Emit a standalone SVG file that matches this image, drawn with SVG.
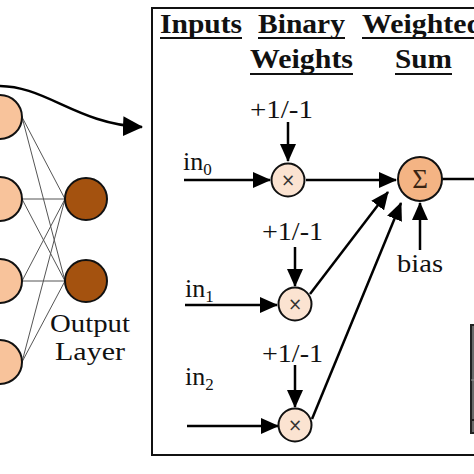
<svg xmlns="http://www.w3.org/2000/svg" width="474" height="474" viewBox="0 0 474 474">
<style>
.hd{font-family:"Liberation Serif","Times New Roman",serif;font-weight:bold;font-size:27px;fill:#111}
.tx{font-family:"Liberation Serif","Times New Roman",serif;font-size:26px;fill:#111}
.sub{font-family:"Liberation Serif","Times New Roman",serif;font-size:17px;fill:#111}
.ul{stroke:#111;stroke-width:2}
.inn{fill:#f8c39b;stroke:#111;stroke-width:2}
.out{fill:#a4520f;stroke:#111;stroke-width:2}
.mul{fill:#fbe3d1;stroke:#111;stroke-width:2}
.sig{fill:#f4b484;stroke:#111;stroke-width:2}
.syn{stroke:#555;stroke-width:1;fill:none}
.arr{stroke:#000;stroke-width:2.5;fill:none;marker-end:url(#ah)}
.sym{font-family:"DejaVu Sans",sans-serif;font-size:17px;fill:#333;text-anchor:middle}
</style>
<defs>
<marker id="ah" viewBox="0 0 18 16" refX="17" refY="8" markerWidth="18" markerHeight="16" markerUnits="userSpaceOnUse" orient="auto">
<path d="M0,0 L18,8 L0,16 Z" fill="#000"/>
</marker>
<marker id="ahc" viewBox="0 0 20 20" refX="19" refY="10" markerWidth="20" markerHeight="20" markerUnits="userSpaceOnUse" orient="auto">
<path d="M0,0 L20,10 L0,20 Z" fill="#000"/>
</marker>
</defs>
<rect width="474" height="474" fill="#fff"/>

<g id="connectors">
<g id="synapses">
<line class="syn" x1="22" y1="117" x2="65" y2="199"/>
<line class="syn" x1="22" y1="117" x2="65" y2="281"/>
<line class="syn" x1="22" y1="199" x2="65" y2="199"/>
<line class="syn" x1="22" y1="199" x2="65" y2="281"/>
<line class="syn" x1="22" y1="281" x2="65" y2="199"/>
<line class="syn" x1="22" y1="281" x2="65" y2="281"/>
<line class="syn" x1="22" y1="362" x2="65" y2="199"/>
<line class="syn" x1="22" y1="362" x2="65" y2="281"/>
</g>
<path d="M-5,86 C45,84 75,124 142,127" stroke="#000" stroke-width="2.5" fill="none" marker-end="url(#ahc)"/>
<line class="arr" x1="288" y1="122" x2="288" y2="161"/>
<line class="arr" x1="184" y1="180" x2="270" y2="180"/>
<line class="arr" x1="306" y1="180" x2="396" y2="180"/>
<line class="arr" x1="295" y1="247" x2="295" y2="286"/>
<line class="arr" x1="185" y1="305" x2="277" y2="305"/>
<line class="arr" x1="310" y1="294" x2="388" y2="192"/>
<line class="arr" x1="295" y1="365" x2="295" y2="407"/>
<line class="arr" x1="187" y1="426" x2="278" y2="426"/>
<line class="arr" x1="312" y1="419" x2="401" y2="203"/>
<line class="arr" x1="420" y1="250" x2="420" y2="203"/>
<line x1="442" y1="179" x2="474" y2="179" stroke="#000" stroke-width="2.5"/>
</g>

<g id="input-layer">
<circle class="inn" cx="0" cy="117" r="22"/>
<circle class="inn" cx="0" cy="199" r="22"/>
<circle class="inn" cx="0" cy="281" r="22"/>
<circle class="inn" cx="0" cy="362" r="22"/>
</g>
<g id="output-layer">
<circle class="out" cx="86" cy="199" r="21"/>
<circle class="out" cx="86" cy="281" r="21"/>
<text class="tx" x="50" y="332" textLength="80" lengthAdjust="spacingAndGlyphs">Output</text>
<text class="tx" x="55" y="360" textLength="70" lengthAdjust="spacingAndGlyphs">Layer</text>
</g>

<g id="neuron-box">
<rect x="152" y="8" width="340" height="447" fill="none" stroke="#111" stroke-width="2"/>
<text class="hd" x="160" y="33" textLength="82" lengthAdjust="spacingAndGlyphs">Inputs</text>
<line class="ul" x1="160" y1="38" x2="242" y2="38"/>
<text class="hd" x="258" y="33" textLength="87" lengthAdjust="spacingAndGlyphs">Binary</text>
<line class="ul" x1="258" y1="38" x2="345" y2="38"/>
<text class="hd" x="362" y="33" textLength="121" lengthAdjust="spacingAndGlyphs">Weighted</text>
<line class="ul" x1="362" y1="38" x2="474" y2="38"/>
<text class="hd" x="250" y="68" textLength="103" lengthAdjust="spacingAndGlyphs">Weights</text>
<line class="ul" x1="250" y1="74" x2="353" y2="74"/>
<text class="hd" x="395" y="68" textLength="57" lengthAdjust="spacingAndGlyphs">Sum</text>
<line class="ul" x1="395" y1="74" x2="452" y2="74"/>
</g>

<g id="w0">
<text class="tx" x="250" y="118" textLength="63" lengthAdjust="spacingAndGlyphs">+1/-1</text>
</g>
<g id="in0"><text class="tx" x="183" y="170">in<tspan class="sub" dy="5">0</tspan></text></g>
<g id="mul0"><circle class="mul" cx="288" cy="180" r="16.5"/><text class="sym" x="288" y="186">×</text></g>

<g id="w1"><text class="tx" x="262" y="240" textLength="61" lengthAdjust="spacingAndGlyphs">+1/-1</text></g>
<g id="in1"><text class="tx" x="185" y="297">in<tspan class="sub" dy="5">1</tspan></text></g>
<g id="mul1"><circle class="mul" cx="295" cy="304" r="16.5"/><text class="sym" x="295" y="310">×</text></g>

<g id="w2"><text class="tx" x="262" y="362" textLength="61" lengthAdjust="spacingAndGlyphs">+1/-1</text></g>
<g id="in2"><text class="tx" x="185" y="385">in<tspan class="sub" dy="5">2</tspan></text></g>
<g id="mul2"><circle class="mul" cx="295" cy="425" r="16.5"/><text class="sym" x="295" y="431">×</text></g>

<g id="sum"><circle class="sig" cx="420" cy="179" r="22"/><text x="420" y="188" text-anchor="middle" font-family="Liberation Serif, serif" font-size="27" fill="#3a2515">Σ</text></g>
<g id="bias"><text class="tx" x="397" y="272" textLength="46" lengthAdjust="spacingAndGlyphs">bias</text></g>

<g id="partial-block">
<rect x="471" y="325" width="10" height="108" fill="#6a6a6a" stroke="#222" stroke-width="2"/>
<line x1="471" y1="380" x2="474" y2="380" stroke="#999" stroke-width="1"/>
<line x1="471" y1="420" x2="474" y2="420" stroke="#222" stroke-width="2"/>
</g>
</svg>
